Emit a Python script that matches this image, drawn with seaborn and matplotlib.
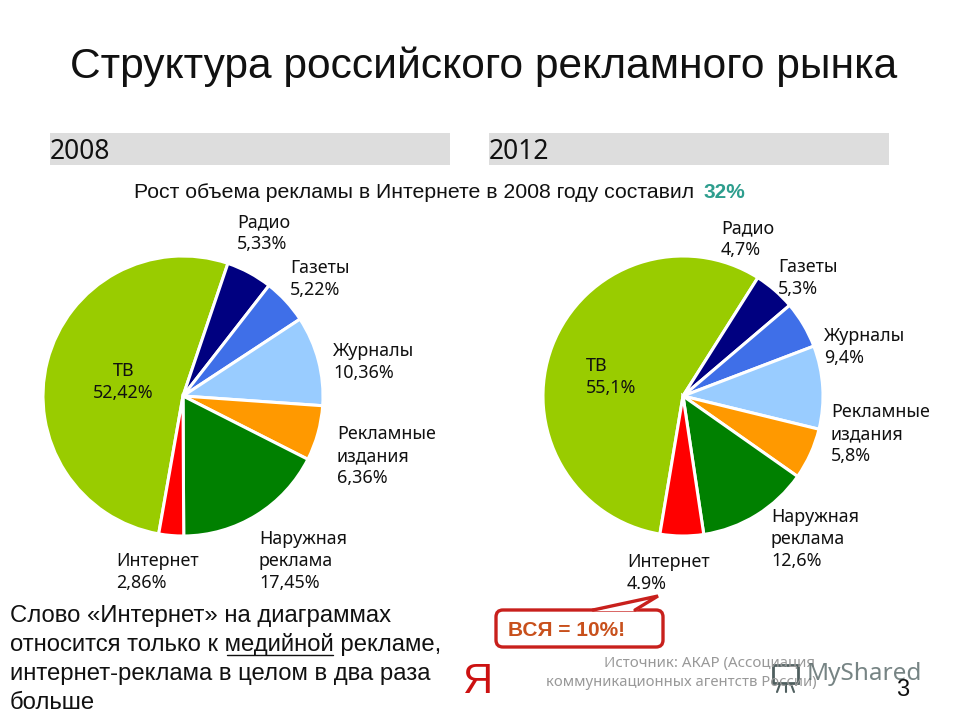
import matplotlib
matplotlib.use('Agg')
import matplotlib.pyplot as plt
from matplotlib.patches import Rectangle, FancyBboxPatch, Polygon
import seaborn as sns

sns.set_theme(style='white')
plt.rcParams['font.family'] = ['Noto Sans', 'DejaVu Sans']

# Data
categories = ['ТВ', 'Радио', 'Газеты', 'Журналы', 'Рекламные\nиздания', 'Наружная\nреклама', 'Интернет']
values_2008 = [52.42, 5.33, 5.22, 10.36, 6.36, 17.45, 2.86]
values_2012 = [55.1, 4.7, 5.3, 9.4, 5.8, 12.6, 4.9]
labels_2008 = ['52,42%', '5,33%', '5,22%', '10,36%', '6,36%', '17,45%', '2,86%']
labels_2012 = ['55,1%', '4,7%', '5,3%', '9,4%', '5,8%', '12,6%', '4.9%']
colors = sns.color_palette(['#99CC00', '#000080', '#3F6FE8', '#99CCFF', '#FF9900', '#008000', '#FF0000'])

# label corners in pixels
pos_2008 = [(93, 362), (237, 213), (290, 259), (333, 342), (337, 425), (259, 530), (116, 552)]
pos_2012 = [(586, 357), (721, 219), (778, 258), (824, 327), (831, 403), (771, 508), (627, 553)]

fig = plt.figure(figsize=(9.6, 7.2), dpi=100, facecolor='white')
bg = fig.add_axes([0, 0, 1, 1], zorder=5)
bg.set_xlim(0, 960)
bg.set_ylim(720, 0)
bg.axis('off')


def draw_pie(values, start, cx, cy, r=140):
    ax = fig.add_axes([(cx - r) / 960, 1 - (cy + r) / 720, 2 * r / 960, 2 * r / 720], zorder=1)
    ax.pie(values, colors=colors, startangle=start, counterclock=False,
           wedgeprops={'edgecolor': 'white', 'linewidth': 2.2}, radius=1)
    ax.set_xlim(-1, 1)
    ax.set_ylim(-1, 1)
    ax.patch.set_alpha(0)
    for w in ax.patches:
        w.set_clip_on(False)


draw_pie(values_2008, -100, 183, 396)
draw_pie(values_2012, -99.5, 683, 396)


def draw_labels(labels, positions, first_align='left'):
    for i, (name, val, (x, y)) in enumerate(zip(categories, labels, positions)):
        ma = first_align if i == 0 else 'left'
        bg.text(x, y, name + '\n' + val, fontsize=12.9, color='#111111', va='top', ha='left',
                ma=ma, linespacing=1.28)


draw_labels(labels_2008, pos_2008, first_align='center')
draw_labels(labels_2012, pos_2012)

# Title and year bars
bg.text(484, 67, 'Структура российского рекламного рынка', fontsize=30.6, family='Liberation Sans',
        color='#111111', ha='center', va='center')
for x0, year in [(50, '2008'), (489, '2012')]:
    bg.add_patch(Rectangle((x0, 133), 400, 32, facecolor='#DDDDDD', edgecolor='none'))
    bg.text(x0, 152, year, fontsize=19, color='#111111', va='center', ha='left')

bg.text(134, 192, 'Рост объема рекламы в Интернете в 2008 году составил', fontsize=15.3,
        family='Liberation Sans', color='#111111', va='center', ha='left')
bg.text(703, 192, '32%', fontsize=15, family='Liberation Sans', fontweight='bold',
        color='#2E9E8E', va='center', ha='left')

# Note at the bottom
note = ['Слово «Интернет» на диаграммах', 'относится только к медийной рекламе,',
        'интернет-реклама в целом в два раза', 'больше']
for i, line in enumerate(note):
    bg.text(10, 616 + i * 29, line, fontsize=17.2, family='Liberation Sans', color='#111111',
            va='center', ha='left')
bg.plot([227, 333], [655, 655], color='#111111', lw=1)

# Callout
bg.add_patch(FancyBboxPatch((496, 610), 167, 37, boxstyle='round,pad=0,rounding_size=7',
                            facecolor='white', edgecolor='#C8201C', linewidth=2.4))
bg.add_patch(Polygon([(594, 611), (658, 597), (636, 611)], closed=True, facecolor='white',
                     edgecolor='none', zorder=3))
bg.plot([593, 658, 635], [610, 596, 610], color='#C8201C', lw=2.4, zorder=4, solid_joinstyle='miter')
bg.text(508, 630, 'ВСЯ = 10%!', fontsize=15, fontweight='bold', family='Liberation Sans',
        color='#C8501C', va='center', ha='left')

# Footer
bg.text(477, 682, 'Я', fontsize=30, color='#CC1111', family='Liberation Sans',
        ha='center', va='center')
bg.text(710, 663, 'Источник: АКАР (Ассоциация', fontsize=10.8, color='#999999', ha='center', va='center')
bg.text(681, 682, 'коммуникационных агентств России)', fontsize=10.7, color='#999999', ha='center', va='center')
bg.text(807, 674, 'MyShared', fontsize=17.5, color='#5F6F6F', alpha=0.85, ha='left', va='center')
bg.add_patch(Rectangle((773, 665), 25, 18, facecolor='none', edgecolor='#4F5F5F', linewidth=2))
bg.plot([780, 777], [684, 692], color='#4F5F5F', lw=1.5)
bg.plot([791, 794], [684, 692], color='#4F5F5F', lw=1.5)
bg.plot([786, 786], [684, 692], color='#4F5F5F', lw=1.5)
bg.text(903, 690, '3', fontsize=17, family='Liberation Sans', color='#111111', ha='center', va='center')

fig.savefig('out.png', dpi=100)
